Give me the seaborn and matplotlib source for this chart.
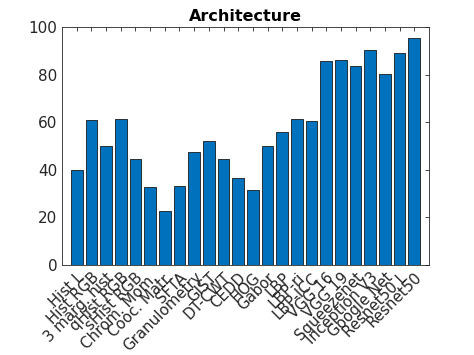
import numpy as np
import pandas as pd
import matplotlib
matplotlib.use("Agg")
import matplotlib.pyplot as plt
import seaborn as sns

# Data
methods = ["Hist L", "Hist RGB", "3 marg. hist", "qHist RGB", "sHist RGB",
           "Chrom. Mom.", "Cooc. Matr.", "SFTA", "Granulometry", "GIST",
           "DT-CWT", "CEDD", "HOG", "Gabor", "LBP", "LBP-ri", "LBP-ICC",
           "VGG 16", "VGG 19", "Squeezenet", "Inception V3", "Google Net",
           "Resnet50 L", "Resnet50"]
accuracy = [40, 60.8, 50, 61.5, 44.5, 32.7, 22.6, 33.2, 47.5, 52,
            44.4, 36.5, 31.4, 50, 55.7, 61.2, 60.4,
            85.5, 86.3, 83.8, 90.2, 80.2, 89, 95.3]

df = pd.DataFrame({"method": methods, "accuracy": accuracy})

sns.set_style("white")
plt.rcParams['font.family'] = ['DejaVu Sans']

fig = plt.figure(figsize=(4.74, 3.55), dpi=100)
ax = fig.add_axes([0.131, 0.2535, 0.774, 0.6705])

sns.barplot(data=df, x="method", y="accuracy", color="#0072BD",
            saturation=1, width=0.8, edgecolor="#1a1a1a", linewidth=0.6, ax=ax)

ax.set_xlim(-1, len(methods))
ax.set_ylim(0, 100)
ax.set_yticks([0, 20, 40, 60, 80, 100])
ax.set_title("Architecture", fontsize=11.5, fontweight="bold", pad=4,
             color="black")
ax.set_xlabel("")
ax.set_ylabel("")

ax.set_xticks(range(len(methods)))
ax.set_xticklabels(methods, rotation=45, ha="right", rotation_mode="anchor",
                   fontsize=10.8, color="#262626")
ax.tick_params(axis="y", labelsize=11, colors="#262626")
ax.tick_params(direction="in", top=True, right=True, length=3, width=0.6,
               color="#262626")
for s in ax.spines.values():
    s.set_visible(True)
    s.set_color("#262626")
    s.set_linewidth(0.6)

plt.savefig("out.png", dpi=100)
